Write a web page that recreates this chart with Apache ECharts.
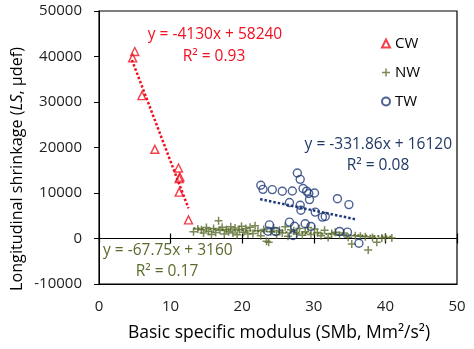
<!DOCTYPE html>
<html><head><meta charset="utf-8">
<script src="https://cdn.jsdelivr.net/npm/echarts@6/dist/echarts.min.js"></script>
<style>html,body{margin:0;padding:0;background:#fff}#c{width:474px;height:349px}</style>
</head><body><div id="c"></div>
<script>
var xTicks = [0, 10, 20, 30, 40, 50];
var yTicks = [-10000, 0, 10000, 20000, 30000, 40000, 50000];

var CW = [[5.0,41100],[4.7,39700],[6.0,31400],[7.8,19600],[11.1,15500],[11.3,13500],[11.2,13200],[11.2,10200],[12.5,4100]];

var TW = [[22.6,11700],[22.9,10800],[24.2,10750],[25.6,10400],[27.0,10450],[27.7,14400],[28.1,13000],[28.5,11000],[29.0,10400],[29.3,9900],[30.1,10000],[29.4,8550],[33.3,8750],[34.9,7450],[26.6,7900],[28.1,7300],[28.2,6200],[30.2,5800],[31.2,4700],[31.6,4850],[23.8,3000],[23.6,1600],[24.7,1550],[26.6,3600],[27.3,2700],[27.1,650],[28.8,3250],[29.6,2650],[33.6,1550],[34.7,1400],[36.3,-1050]];

var NW = [[13.2,1500],[13.8,2100],[14.3,1900],[14.6,1200],[15.0,2400],[15.3,1600],[15.7,900],[16.0,2200],[16.3,1300],[16.7,3900],[16.9,1800],[17.2,2500],[17.5,1000],[17.8,2000],[18.1,1500],[18.4,2600],[18.7,1200],[19.0,2300],[19.3,800],[19.6,1900],[19.9,2700],[20.2,1400],[20.5,2200],[20.8,1000],[21.1,2500],[21.5,1100],[21.8,2800],[22.2,1700],[22.6,600],[23.0,2000],[23.4,-600],[23.7,-800],[24.0,1500],[24.4,2300],[24.8,800],[25.2,1800],[25.6,1200],[26.0,2600],[26.4,500],[26.8,1900],[27.2,1700],[27.6,1000],[28.0,2200],[28.4,700],[28.8,1500],[29.2,2400],[29.6,900],[30.1,2100],[30.5,1300],[31.0,600],[31.5,1800],[32.0,200],[32.5,1100],[33.0,1400],[33.6,700],[34.2,1200],[34.8,300],[35.3,-1200],[35.8,600],[36.5,500],[37.2,400],[37.6,-2500],[38.2,200],[38.8,-800],[39.5,100],[40.0,200],[40.9,100]];

var CWtrend = [[4.6,39240],[12.5,6615]];
var TWtrend = [[22.5,8650],[36.0,4170]];
var NWtrend = [[13.2,2266],[40.9,389]];

var eqCW = ['y = -4130x + 58240', 'R\u00b2 = 0.93'];
var eqTW = ['y = -331.86x + 16120', 'R\u00b2 = 0.08'];
var eqNW = ['y = -67.75x + 3160', 'R\u00b2 = 0.17'];
var xTitle = 'Basic specific modulus (SMb, Mm\u00b2/s\u00b2)';
var yTitle = 'Longitudinal shrinkage ({i|LS}, \u03bcdef)';

var RED = '#f01020', OLIVE = '#5a6b2c', NAVY = '#1f3a78';
var FONT = '"Open Sans", "Noto Sans", sans-serif';
var PLUS = 'path://M3.25,0H4.75V3.25H8V4.75H4.75V8H3.25V4.75H0V3.25H3.25Z';

var chart = echarts.init(document.getElementById('c'));
function txt(t, x, y, color, align) {
  return {type:'text', x:x, y:y, style:{text:t, fill:color, font:'15.5px ' + FONT, textAlign:align||'center', textVerticalAlign:'middle'}};
}
var xBase = {type:'value', min:xTicks[0], max:xTicks[xTicks.length-1], interval:10, splitLine:{show:false}};
chart.setOption({
  animation:false,
  textStyle:{fontFamily:FONT},
  grid:{left:99, top:11, right:17, bottom:65, outerBoundsMode:'none', containLabel:false, show:true, borderColor:'#000', borderWidth:1.2, backgroundColor:'transparent'},
  legend:{data:['CW','NW','TW'], orient:'vertical', left:376, top:31, itemWidth:8, itemHeight:8, itemGap:14,
    textStyle:{fontSize:15, color:'#000', fontFamily:FONT}},
  xAxis:[
    Object.assign({}, xBase, {position:'bottom', axisLine:{onZero:false, lineStyle:{color:'#000'}}, axisTick:{show:false},
      axisLabel:{color:'#222', fontSize:15, margin:15}}),
    Object.assign({}, xBase, {position:'bottom', axisLine:{onZero:true, onZeroAxisIndex:0, lineStyle:{color:'#000', width:1.2}}, axisTick:{show:true, length:5, lineStyle:{color:'#000', width:1.2}}, axisLabel:{show:false}}),
    Object.assign({}, xBase, {position:'top', axisLine:{onZero:true, onZeroAxisIndex:0, lineStyle:{color:'#000', width:1.2}}, axisTick:{show:true, length:5, lineStyle:{color:'#000', width:1.2}}, axisLabel:{show:false}})
  ],
  yAxis:{type:'value', min:yTicks[0], max:yTicks[yTicks.length-1], interval:10000, splitLine:{show:false},
    axisLine:{show:true, onZero:false, lineStyle:{color:'#000'}}, axisTick:{show:true, length:5, lineStyle:{color:'#000'}},
    axisLabel:{color:'#222', fontSize:15, margin:17, formatter:function(v){return String(v);}}},
  graphic:[
    txt(eqCW[0], 215, 35, RED), txt(eqCW[1], 214, 57, RED),
    txt(eqTW[0], 452, 145, '#203864', 'right'), txt(eqTW[1], 378, 166, '#203864'),
    txt(eqNW[0], 103, 251, OLIVE, 'left'), txt(eqNW[1], 167, 272, OLIVE),
    {type:'text', x:279, y:333, style:{text:xTitle, fill:'#000', font:'17.5px ' + FONT, textAlign:'center', textVerticalAlign:'middle'}},
    {type:'text', x:17, y:169, rotation:Math.PI/2, style:{text:yTitle, fill:'#000', fontSize:16.2, fontFamily:FONT, align:'center', verticalAlign:'middle',
      rich:{i:{fontStyle:'italic', fontSize:16.2, fontFamily:FONT, fill:'#000'}}}}
  ],
  series:[
    {name:'CW trend', type:'line', data:CWtrend, showSymbol:false, silent:true, lineStyle:{color:RED, width:2.5, type:[2.5,2]}, z:2},
    {name:'NW trend', type:'line', data:NWtrend, showSymbol:false, silent:true, lineStyle:{color:OLIVE, width:2, type:[2,2]}, z:2},
    {name:'TW trend', type:'line', data:TWtrend, showSymbol:false, silent:true, lineStyle:{color:NAVY, width:2.5, type:[2.5,2]}, z:2},
    {name:'CW', type:'scatter', data:CW, symbol:'triangle', symbolSize:8, itemStyle:{color:'rgba(255,255,255,0)', borderColor:RED, borderWidth:1.4}, z:3},
    {name:'NW', type:'scatter', data:NW, symbol:PLUS, symbolSize:8, itemStyle:{color:OLIVE}, z:3},
    {name:'TW', type:'scatter', data:TW, symbol:'circle', symbolSize:8, itemStyle:{color:'rgba(255,255,255,0)', borderColor:NAVY, borderWidth:1.4}, z:4}
  ]
});
</script></body></html>
